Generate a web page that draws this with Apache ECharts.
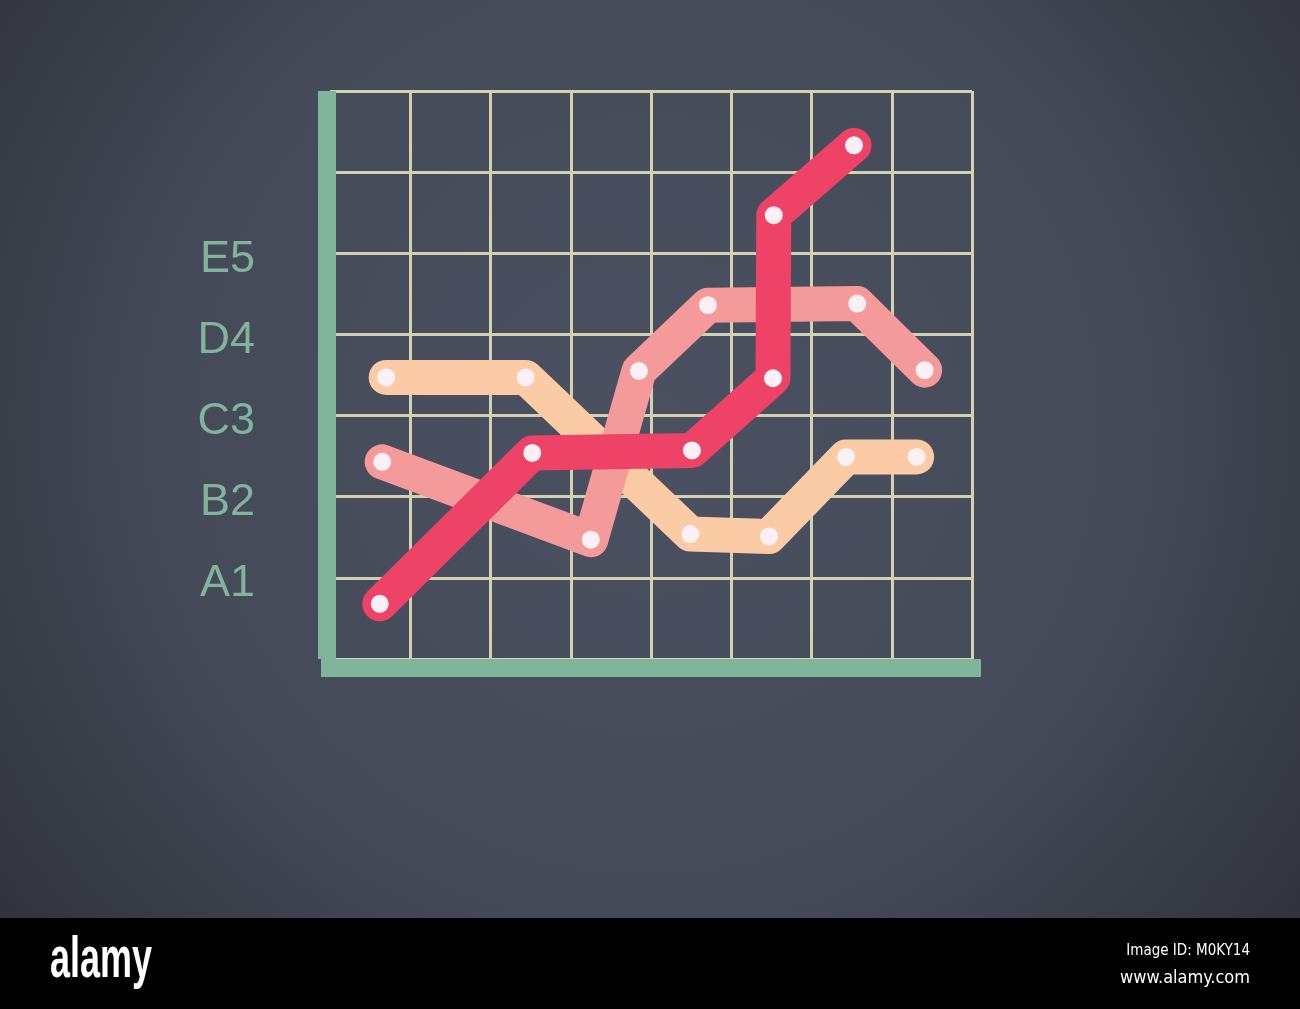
<!DOCTYPE html>
<html>
<head>
<meta charset="utf-8">
<script src="https://cdn.jsdelivr.net/npm/echarts@6/dist/echarts.min.js"></script>
<style>
html,body{margin:0;padding:0;background:#3a3e47;}
#c{width:1300px;height:1009px;}
</style>
</head>
<body>
<div id="c"></div>
<script>
// Category labels on the y axis (at values 1..5)
var yLabels = ['A1', 'B2', 'C3', 'D4', 'E5'];
// Series points [x, y] in grid units
var redSeries   = [[0.62, 0.68], [2.52, 2.54], [4.51, 2.57], [5.52, 3.46], [5.53, 5.47], [6.53, 6.33]];
var pinkSeries  = [[0.65, 2.43], [3.25, 1.47], [3.85, 3.55], [4.71, 4.36], [6.57, 4.38], [7.41, 3.56]];
var peachSeries = [[0.70, 3.47], [2.44, 3.47], [4.49, 1.54], [5.47, 1.51], [6.43, 2.49], [7.31, 2.49]];

var chart = echarts.init(document.getElementById('c'), null, {renderer: 'canvas'});

function lineSeries(name, data, color) {
  return {
    name: name,
    type: 'line',
    data: data,
    symbol: 'circle',
    symbolSize: 18,
    itemStyle: {color: '#fbf0f3'},
    lineStyle: {color: color, width: 35, cap: 'round', join: 'round'},
    emphasis: {disabled: true},
    animation: false
  };
}

chart.setOption({
  animation: false,
  graphic: [
    {
      type: 'rect', z: -100, silent: true,
      shape: {x: 0, y: 0, width: 1300, height: 1009},
      style: {
        fill: {
          type: 'radial', x: 0.5, y: 0.42, r: 0.8,
          colorStops: [
            {offset: 0, color: '#4b5161'},
            {offset: 0.6, color: '#454a58'},
            {offset: 1, color: '#31343c'}
          ]
        }
      }
    },
    {
      type: 'rect', z: 100, silent: true,
      shape: {x: 0, y: 918, width: 1300, height: 91},
      style: {fill: '#000000'}
    },
    {
      type: 'text', z: 101, silent: true, x: 50, y: 932, scaleX: 0.62,
      style: {text: 'alamy', fill: '#ffffff', font: 'bold 58px "Liberation Sans", Arial, sans-serif'}
    },
    {
      type: 'text', z: 101, silent: true, right: 50, top: 944,
      style: {text: 'Image ID: M0KY14', fill: '#ffffff', font: '15px "DejaVu Sans Condensed", sans-serif', align: 'right'}
    },
    {
      type: 'text', z: 101, silent: true, right: 50, top: 969,
      style: {text: 'www.alamy.com', fill: '#ffffff', font: '18px "DejaVu Sans Condensed", sans-serif', align: 'right'}
    }
  ],
  grid: {left: 330, right: 328, top: 91, bottom: 350, containLabel: false},
  xAxis: {
    type: 'value', min: 0, max: 8, interval: 1,
    offset: 9,
    axisLine: {show: true, onZero: false, lineStyle: {color: '#80b49b', width: 18, cap: 'square'}},
    axisTick: {show: false},
    axisLabel: {show: false},
    splitLine: {show: true, lineStyle: {color: '#d3d2b0', width: 3}}
  },
  yAxis: {
    type: 'value', min: 0, max: 7, interval: 1,
    offset: 3,
    axisLine: {show: true, onZero: false, lineStyle: {color: '#80b49b', width: 18, cap: 'butt'}},
    axisTick: {show: false},
    axisLabel: {
      show: true, margin: 72,
      color: '#80b49b', fontSize: 45, fontFamily: '"Liberation Sans", Arial, sans-serif',
      verticalAlign: 'top', lineHeight: 12,
      formatter: function (v) { return (v >= 1 && v <= yLabels.length) ? yLabels[v - 1] : ''; }
    },
    splitLine: {show: true, lineStyle: {color: '#d3d2b0', width: 3}}
  },
  series: [
    lineSeries('peach', peachSeries, '#fbcba5'),
    lineSeries('pink', pinkSeries, '#f49a9b'),
    lineSeries('red', redSeries, '#ee4266')
  ]
});
</script>
</body>
</html>
